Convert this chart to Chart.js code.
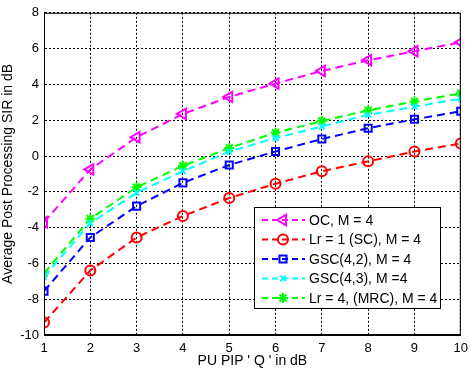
<!DOCTYPE html>
<html>
<head>
<meta charset="utf-8">
<script src="https://cdn.jsdelivr.net/npm/chart.js@4"></script>
<style>
  html, body { margin: 0; padding: 0; background: #fff; }
  #wrap { width: 474px; height: 370px; }
</style>
</head>
<body>
<div id="wrap"><canvas id="sirChart" width="474" height="370"></canvas></div>
<script>
const pipDb = [1, 2, 3, 4, 5, 6, 7, 8, 9, 10];
const ocM4 = [-3.7, -0.75, 1.05, 2.35, 3.3, 4.05, 4.75, 5.35, 5.85, 6.35];
const scM4 = [-9.3, -6.4, -4.55, -3.35, -2.35, -1.55, -0.85, -0.3, 0.25, 0.7];
const gsc42M4 = [-7.55, -4.55, -2.8, -1.5, -0.5, 0.25, 0.95, 1.55, 2.05, 2.5];
const gsc43M4 = [-6.75, -3.75, -2.05, -0.85, 0.25, 1.0, 1.65, 2.3, 2.75, 3.2];
const mrcM4 = [-6.55, -3.5, -1.75, -0.55, 0.45, 1.3, 1.95, 2.55, 3.05, 3.5];
const seriesLabels = ["OC, M = 4", "Lr = 1 (SC), M = 4", "GSC(4,2), M = 4", "GSC(4,3), M =4", "Lr = 4, (MRC), M = 4"];

function toPoints(vals) {
  return vals.map((v, i) => ({ x: pipDb[i], y: v }));
}

function makeSet(label, vals, color, style, radius, rotation) {
  return {
    label: label,
    data: toPoints(vals),
    borderColor: color,
    backgroundColor: "transparent",
    borderWidth: 2,
    borderDash: [8, 5],
    pointStyle: style,
    pointRadius: radius,
    pointRotation: rotation,
    pointBorderColor: color,
    pointBackgroundColor: "transparent",
    pointBorderWidth: 2,
    tension: 0,
  };
}

// black box round the plot, with small inward ticks
const framePlugin = {
  id: "frame",
  afterDraw(chart) {
    const a = chart.chartArea;
    const ctx = chart.ctx;
    ctx.save();
    ctx.strokeStyle = "#000";
    ctx.lineWidth = 1;
    ctx.strokeRect(a.left + 0.5, a.top + 0.5, a.right - a.left - 1, a.bottom - a.top - 1);
    ctx.restore();
  },
};

// legend box inside the plot, lower right
const boxLegend = {
  id: "boxLegend",
  afterDraw(chart) {
    const ctx = chart.ctx;
    const x0 = 254, y0 = 207, w = 186, h = 101;
    ctx.save();
    ctx.fillStyle = "#fff";
    ctx.fillRect(x0, y0, w, h);
    ctx.strokeStyle = "#000";
    ctx.lineWidth = 1;
    ctx.strokeRect(x0 + 0.5, y0 + 0.5, w, h);
    chart.data.datasets.forEach((ds, i) => {
      const cy = y0 + 13 + i * 19.5;
      ctx.strokeStyle = ds.borderColor;
      ctx.lineWidth = 2;
      ctx.setLineDash([6, 4]);
      ctx.beginPath();
      ctx.moveTo(262, cy);
      ctx.lineTo(305, cy);
      ctx.stroke();
      ctx.setLineDash([]);
      ctx.fillStyle = "rgba(0,0,0,0)";
      Chart.helpers.drawPoint(ctx, {
        pointStyle: ds.pointStyle,
        radius: ds.pointRadius,
        rotation: ds.pointRotation,
        borderWidth: 2,
      }, 283, cy);
      ctx.fillStyle = "#000";
      ctx.font = "14px 'Liberation Sans', Arial, sans-serif";
      ctx.textBaseline = "middle";
      ctx.textAlign = "left";
      ctx.fillText(ds.label, 309, cy + 1);
    });
    ctx.restore();
  },
};

const gridStyle = {
  color: "#000",
  lineWidth: 1,
  drawTicks: false,
};

const ctx = document.getElementById("sirChart").getContext("2d");
const sirChart = new Chart(ctx, {
  type: "line",
  data: {
    datasets: [
      makeSet(seriesLabels[0], ocM4, "#ff00ff", "triangle", 6, -90),
      makeSet(seriesLabels[1], scM4, "#ff0000", "circle", 5, 0),
      makeSet(seriesLabels[2], gsc42M4, "#0000ff", "rect", 5, 0),
      makeSet(seriesLabels[3], gsc43M4, "#00ffff", "crossRot", 4, 0),
      makeSet(seriesLabels[4], mrcM4, "#00ff00", "star", 5, 0),
    ],
  },
  options: {
    responsive: false,
    animation: false,
    layout: { padding: { top: 5, right: 6, left: 0, bottom: 0 } },
    plugins: {
      legend: { display: false },
      tooltip: { enabled: false },
    },
    scales: {
      x: {
        type: "linear",
        min: 1,
        max: 10,
        ticks: {
          stepSize: 1,
          color: "#000",
          padding: 6,
          font: { family: "'Liberation Sans', Arial, sans-serif", size: 13 },
        },
        grid: gridStyle,
        border: { display: true, color: "#000", dash: [2, 2] },
        title: {
          display: true,
          text: "PU PIP ' Q ' in dB",
          color: "#000",
          padding: { top: 4, bottom: 0 },
          font: { family: "'Liberation Sans', Arial, sans-serif", size: 14 },
        },
        afterFit(scale) { scale.height = 35; },
      },
      y: {
        min: -10,
        max: 8,
        ticks: {
          stepSize: 2,
          color: "#000",
          padding: 5,
          font: { family: "'Liberation Sans', Arial, sans-serif", size: 13 },
        },
        grid: gridStyle,
        border: { display: true, color: "#000", dash: [2, 2] },
        title: {
          display: true,
          text: "Average Post Processing SIR in dB",
          color: "#000",
          padding: { top: 0, bottom: 0 },
          font: { family: "'Liberation Sans', Arial, sans-serif", size: 14 },
        },
        afterFit(scale) { scale.width = 44; },
      },
    },
  },
  plugins: [framePlugin, boxLegend],
});
</script>
</body>
</html>
